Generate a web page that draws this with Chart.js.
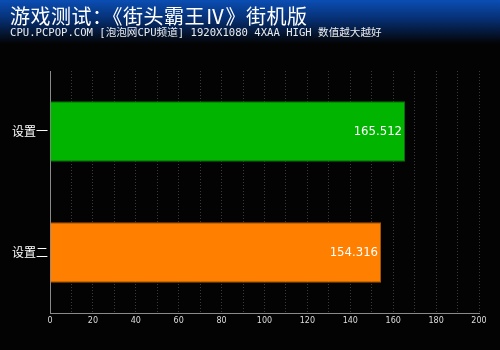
<!DOCTYPE html>
<html>
<head>
<meta charset="utf-8">
<script src="https://cdn.jsdelivr.net/npm/chart.js@4/dist/chart.umd.min.js"></script>
<style>
  html, body { margin: 0; padding: 0; background: #030303; }
  #wrap { width: 500px; height: 350px; }
</style>
</head>
<body>
<div id="wrap"><canvas id="myChart" width="500" height="350"></canvas></div>
<script>
// Datas
const settings = ["设置一", "设置二"];
const scores = [165.512, 154.316];
const barColors = ["#00b400", "#ff8000"];
const barEdges = ["#0a6a0a", "#a85400"];
const titleText = "游戏测试：《街头霸王Ⅳ》街机版";
const subtitleText = "CPU.PCPOP.COM [泡泡网CPU频道] 1920X1080 4XAA HIGH 数值越大越好";

// blue header fading to black, with the two header lines
const header = {
    id: 'header',
    beforeDraw(chart) {
        const ctx = chart.ctx;
        const g = ctx.createLinearGradient(0, 0, 0, 44);
        g.addColorStop(0, '#0a4eb4');
        g.addColorStop(0.45, '#062e70');
        g.addColorStop(1, '#030303');
        ctx.save();
        ctx.fillStyle = '#030303';
        ctx.fillRect(0, 0, chart.width, chart.height);
        ctx.fillStyle = g;
        ctx.fillRect(0, 0, chart.width, 44);
        ctx.fillStyle = '#ffffff';
        ctx.textBaseline = 'middle';
        ctx.font = '20px "Noto Sans CJK SC", sans-serif';
        ctx.letterSpacing = '0.5px';
        ctx.fillText(titleText, 10, 16);
        ctx.letterSpacing = '0px';
        ctx.fillStyle = '#ececec';
        ctx.font = '10.6px "DejaVu Sans Mono", "Noto Sans CJK SC", monospace';
        ctx.fillText(subtitleText, 10, 33);
        ctx.restore();
    }
};

// value written inside the end of each bar
const valueLabels = {
    id: 'valueLabels',
    afterDatasetsDraw(chart) {
        const ctx = chart.ctx;
        const meta = chart.getDatasetMeta(0);
        ctx.save();
        ctx.fillStyle = '#ffffff';
        ctx.font = '13px "DejaVu Sans Condensed", "DejaVu Sans", sans-serif';
        ctx.textAlign = 'right';
        ctx.textBaseline = 'middle';
        meta.data.forEach((bar, i) => {
            ctx.fillText(scores[i].toFixed(3), bar.x - 3, bar.y);
        });
        ctx.restore();
    }
};

// the chart
const myChart = new Chart('myChart', {
    type: 'bar',
    data: {
        labels: settings,
        datasets: [{
            data: scores,
            backgroundColor: barColors,
            borderColor: barEdges,
            borderWidth: 1,
            barPercentage: 0.5,
            categoryPercentage: 1
        }]
    },
    options: {
        indexAxis: 'y',
        responsive: false,
        animation: false,
        layout: { padding: { left: 0, right: 21, top: 71, bottom: 0 } },
        plugins: {
            legend: { display: false },
            tooltip: { enabled: false }
        },
        scales: {
            x: {
                min: 0,
                max: 200,
                afterFit(scale) { scale.height = 37; },
                ticks: {
                    stepSize: 10,
                    autoSkip: false,
                    maxRotation: 0,
                    padding: 3,
                    color: '#dddddd',
                    font: { family: '"DejaVu Sans", sans-serif', size: 8 },
                    callback: v => (v % 20 === 0 ? v : '')
                },
                grid: { color: '#3a3a3a', drawTicks: false },
                border: { color: '#8a8a8a', width: 1, dash: [1, 2] }
            },
            y: {
                afterFit(scale) { scale.width = 50; },
                ticks: {
                    color: '#ffffff',
                    padding: 2,
                    font: { family: '"Noto Sans CJK SC", sans-serif', size: 12 }
                },
                grid: { display: false, drawTicks: false },
                border: { color: '#8a8a8a', width: 1 }
            }
        }
    },
    plugins: [header, valueLabels]
});
</script>
</body>
</html>
